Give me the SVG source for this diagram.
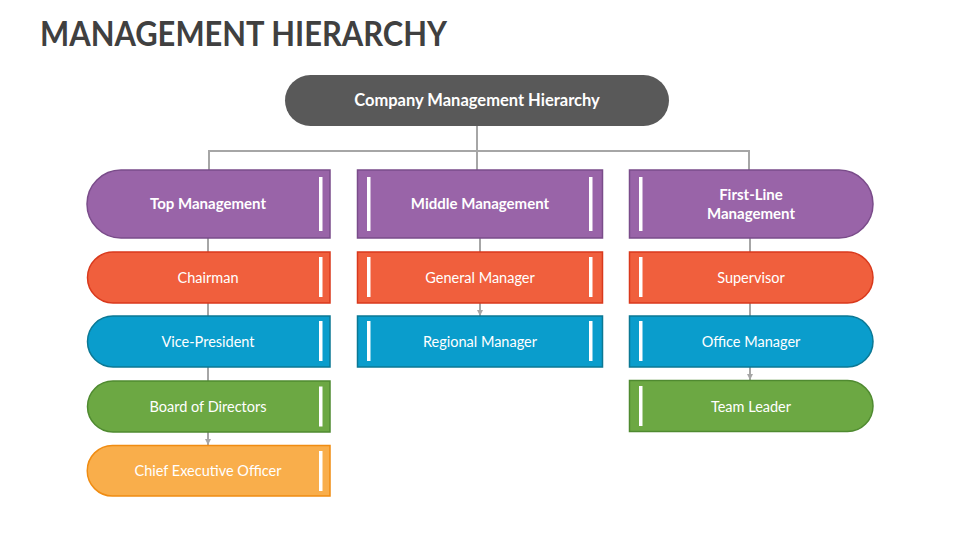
<svg xmlns="http://www.w3.org/2000/svg" width="960" height="540" viewBox="0 0 960 540">
<style>
  .title{font-family:Lato,"Open Sans","Liberation Sans",sans-serif;font-weight:bold;font-size:34px;fill:#404040}
  .lbl{font-family:Lato,"Open Sans","Liberation Sans",sans-serif;font-size:14.5px;fill:#ffffff;text-anchor:middle;dominant-baseline:central}
  .b{font-weight:bold;font-size:15px}
  .big{font-size:16.5px}
  .conn{stroke:#a6a6a6;stroke-width:2;fill:none}
  .bar{fill:#ffffff}
  .purple{fill:#9964a8;stroke:#7a4c8a;stroke-width:1.5}
  .red{fill:#f05f3d;stroke:#d9391c;stroke-width:1.5}
  .blue{fill:#0a9dcc;stroke:#0b7894;stroke-width:1.5}
  .green{fill:#6ca843;stroke:#4f8a30;stroke-width:1.5}
  .orange{fill:#f9ae4b;stroke:#f08c12;stroke-width:1.5}
</style>
<defs>
  <marker id="arr" markerUnits="userSpaceOnUse" markerWidth="7" markerHeight="7" refX="6" refY="3" orient="auto">
    <path d="M0,0 L6,3 L0,6 Z" fill="#a6a6a6"/>
  </marker>
</defs>
<rect width="960" height="540" fill="#ffffff"/>
<text class="title" x="40" y="46" textLength="407" lengthAdjust="spacingAndGlyphs">MANAGEMENT HIERARCHY</text>

<g id="connectors">
  <path class="conn" d="M477,126 V170"/>
  <path class="conn" d="M209,170 V151 H749 V170"/>
  <path class="conn" d="M208,238 V445" marker-end="url(#arr)"/>
  <path class="conn" d="M480,238 V316" marker-end="url(#arr)"/>
  <path class="conn" d="M750,238 V380" marker-end="url(#arr)"/>
</g>

<g id="root">
  <rect x="285" y="75" width="384" height="51" rx="25.5" fill="#595959"/>
  <text class="lbl b big" x="477" y="100">Company Management Hierarchy</text>
</g>

<!-- Left column -->
<g id="top-management">
  <path class="purple" d="M330,170 H121 A34,34 0 0 0 121,238 H330 Z"/>
  <rect class="bar" x="319" y="177" width="3.5" height="54"/>
  <text class="lbl b" x="208" y="203">Top Management</text>
</g>
<g id="chairman">
  <path class="red" d="M330,252 H113 A25.5,25.5 0 0 0 113,303 H330 Z"/>
  <rect class="bar" x="319" y="257" width="3.5" height="40"/>
  <text class="lbl" x="208" y="277">Chairman</text>
</g>
<g id="vice-president">
  <path class="blue" d="M330,316 H113 A25.5,25.5 0 0 0 113,367 H330 Z"/>
  <rect class="bar" x="319" y="321" width="3.5" height="40"/>
  <text class="lbl" x="208" y="341">Vice-President</text>
</g>
<g id="board-of-directors">
  <path class="green" d="M330,381 H113 A25.5,25.5 0 0 0 113,432 H330 Z"/>
  <rect class="bar" x="319" y="386.5" width="3.5" height="40"/>
  <text class="lbl" x="208" y="406">Board of Directors</text>
</g>
<g id="ceo">
  <path class="orange" d="M330,445.5 H112.5 A25.25,25.25 0 0 0 112.5,496 H330 Z"/>
  <rect class="bar" x="319" y="451" width="3.5" height="40"/>
  <text class="lbl" x="208" y="470">Chief Executive Officer</text>
</g>

<!-- Middle column -->
<g id="middle-management">
  <rect class="purple" x="357.5" y="170" width="245" height="68"/>
  <rect class="bar" x="367" y="177" width="3.5" height="54"/>
  <rect class="bar" x="589" y="177" width="3.5" height="54"/>
  <text class="lbl b" x="480" y="203">Middle Management</text>
</g>
<g id="general-manager">
  <rect class="red" x="357.5" y="252" width="245" height="51"/>
  <rect class="bar" x="367" y="257" width="3.5" height="40"/>
  <rect class="bar" x="589" y="257" width="3.5" height="40"/>
  <text class="lbl" x="480" y="277">General Manager</text>
</g>
<g id="regional-manager">
  <rect class="blue" x="357.5" y="316" width="245" height="51"/>
  <rect class="bar" x="367" y="321" width="3.5" height="40"/>
  <rect class="bar" x="589" y="321" width="3.5" height="40"/>
  <text class="lbl" x="480" y="341">Regional Manager</text>
</g>

<!-- Right column -->
<g id="first-line-management">
  <path class="purple" d="M629.5,170 H839 A34,34 0 0 1 839,238 H629.5 Z"/>
  <rect class="bar" x="639" y="177" width="3.5" height="54"/>
  <text class="lbl b" x="751" y="194">First-Line</text>
  <text class="lbl b" x="751" y="213">Management</text>
</g>
<g id="supervisor">
  <path class="red" d="M629.5,252 H847.5 A25.5,25.5 0 0 1 847.5,303 H629.5 Z"/>
  <rect class="bar" x="639" y="257" width="3.5" height="40"/>
  <text class="lbl" x="751" y="277">Supervisor</text>
</g>
<g id="office-manager">
  <path class="blue" d="M629.5,316 H847.5 A25.5,25.5 0 0 1 847.5,367 H629.5 Z"/>
  <rect class="bar" x="639" y="321" width="3.5" height="40"/>
  <text class="lbl" x="751" y="341">Office Manager</text>
</g>
<g id="team-leader">
  <path class="green" d="M629.5,380.5 H847.5 A25.5,25.5 0 0 1 847.5,431.5 H629.5 Z"/>
  <rect class="bar" x="639" y="386" width="3.5" height="40"/>
  <text class="lbl" x="751" y="406">Team Leader</text>
</g>
</svg>
